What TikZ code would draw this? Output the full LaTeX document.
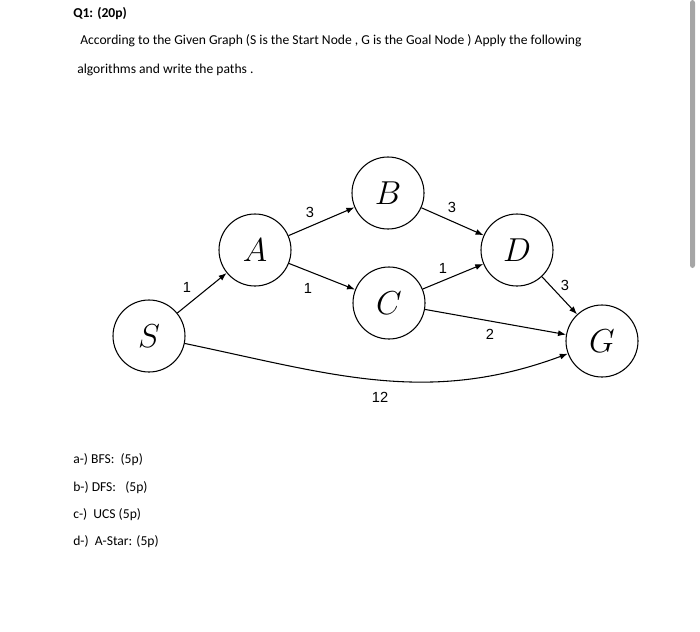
\documentclass[tikz,border=0pt]{standalone}
\usepackage{fontspec}
\setmainfont{Carlito}
\newfontfamily\lblfont{Liberation Sans}
\usetikzlibrary{arrows.meta}

\tikzset{
    vertex/.style={draw, circle, line width=0.8pt, minimum size=54pt, inner sep=0pt,
        font=\fontsize{27}{27}\selectfont},
    wt/.style={font=\lblfont\fontsize{11}{11}\selectfont, inner sep=0pt},
    arc/.style={line width=0.8pt, -{Latex[length=6pt,width=4.5pt]}},
    txt/.style={anchor=base west, inner sep=0pt, font=\fontsize{10.2}{12}\selectfont}
}

\begin{document}
\begin{tikzpicture}[x=0.75pt, y=-0.75pt]
    \useasboundingbox (0,0) rectangle (700,632);

    % question text
    \node[txt, font=\bfseries\fontsize{10.2}{12}\selectfont] (q) at (73,17) {Q1: (20p)};
    \node[txt] (l1) at (80,44) {According to the Given Graph (S is the Start Node , G is the Goal Node ) Apply the following};
    \node[txt] (l2) at (77,73) {algorithms and write the paths .};

    % graph
    \node[vertex] (S) at (149,336) {$S$};
    \node[vertex] (A) at (255,250) {$A$};
    \node[vertex] (B) at (388,193) {$B$};
    \node[vertex] (C) at (389,303) {$C$};
    \node[vertex] (D) at (517,250) {$D$};
    \node[vertex] (G) at (602,341) {$G$};

    \draw[arc] (S) -- (A);
    \draw[arc] (A) -- (B);
    \draw[arc] (A) -- (C);
    \draw[arc] (B) -- (D);
    \draw[arc] (C) -- (D);
    \draw[arc] (D) -- (G);
    \draw[arc] (C) -- (G);
    \draw[arc] (S) .. controls (331,374) and (427,406) .. (G);

    \node[wt] (wSA) at (187,287) {1};
    \node[wt] (wAB) at (310,212) {3};
    \node[wt] (wAC) at (308,288) {1};
    \node[wt] (wBD) at (452,207) {3};
    \node[wt] (wCD) at (443,268) {1};
    \node[wt] (wDG) at (565,285) {3};
    \node[wt] (wCG) at (490,334) {2};
    \node[wt] (wSG) at (380,397) {12};

    % parts
    \node[txt] (pa) at (73,463) {a-) BFS:\ \ (5p)};
    \node[txt] (pb) at (73,491) {b-) DFS:\ \ \ (5p)};
    \node[txt] (pc) at (73,518) {c-)\ \ UCS (5p)};
    \node[txt] (pd) at (73,545) {d-)\ \ A-Star: (5p)};

    % scroll bar
    \fill[black!35, rounded corners=2pt] (690,0) rectangle (695,268);
\end{tikzpicture}
\end{document}
